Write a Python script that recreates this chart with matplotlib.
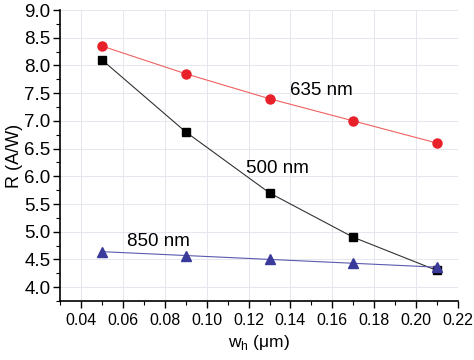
import matplotlib.pyplot as plt
from matplotlib.ticker import MultipleLocator

plt.rcParams['font.family'] = ['Liberation Sans', 'DejaVu Sans']

# thickness w_h (um) and responsivity R (A/W) per wavelength
wh = [0.05, 0.09, 0.13, 0.17, 0.21]
r_635 = [8.35, 7.85, 7.40, 7.00, 6.60]
r_500 = [8.10, 6.80, 5.70, 4.90, 4.30]
r_850 = [4.64, 4.57, 4.50, 4.43, 4.36]

fig = plt.figure(figsize=(4.74, 3.6), dpi=100)
ax = fig.add_axes([0.127, 0.164, 0.839, 0.808])

ax.plot(wh, r_635, color='#f06060', lw=0.8, marker='o', ms=6.5,
        mfc='#e8202a', mec='#e8202a')
ax.plot(wh, r_500, color='#333333', lw=0.8, marker='s', ms=5.5,
        mfc='black', mec='black')
ax.plot(wh, r_850, color='#5a5ab0', lw=0.8, marker='^', ms=6.5,
        mfc='#3a3a9a', mec='#3a3a9a')

ax.text(0.14, 7.47, '635 nm', fontsize=13.5)
ax.text(0.119, 6.06, '500 nm', fontsize=13.5)
ax.text(0.062, 4.75, '850 nm', fontsize=13.5)

ax.set_xlim(0.03, 0.22)
ax.set_ylim(3.75, 9.0)
ax.xaxis.set_major_locator(MultipleLocator(0.02))
ax.xaxis.set_minor_locator(MultipleLocator(0.01))
ax.yaxis.set_major_locator(MultipleLocator(0.5))
ax.yaxis.set_minor_locator(MultipleLocator(0.25))
ax.xaxis.set_major_formatter(plt.FormatStrFormatter('%.2f'))
ax.yaxis.set_major_formatter(plt.FormatStrFormatter('%.1f'))

ax.grid(True, which='major', color='#e6e6ee', lw=0.7)
ax.set_axisbelow(True)
for s in ['top', 'right']:
    ax.spines[s].set_visible(False)
ax.spines['left'].set_linewidth(1.2)
ax.spines['bottom'].set_linewidth(1.2)
ax.tick_params(which='major', direction='out', length=5, width=1.0)
ax.tick_params(which='minor', direction='out', length=3, width=0.8)
ax.tick_params(axis='x', labelsize=11.5)
ax.tick_params(axis='y', labelsize=13.5, pad=2)

ax.set_xlabel(r'w$_\mathregular{h}$ ($\mathregular{\mu}$m)', fontsize=12.5)
ax.set_ylabel('R (A/W)', fontsize=13, labelpad=1)

fig.savefig('out.png', dpi=100)
